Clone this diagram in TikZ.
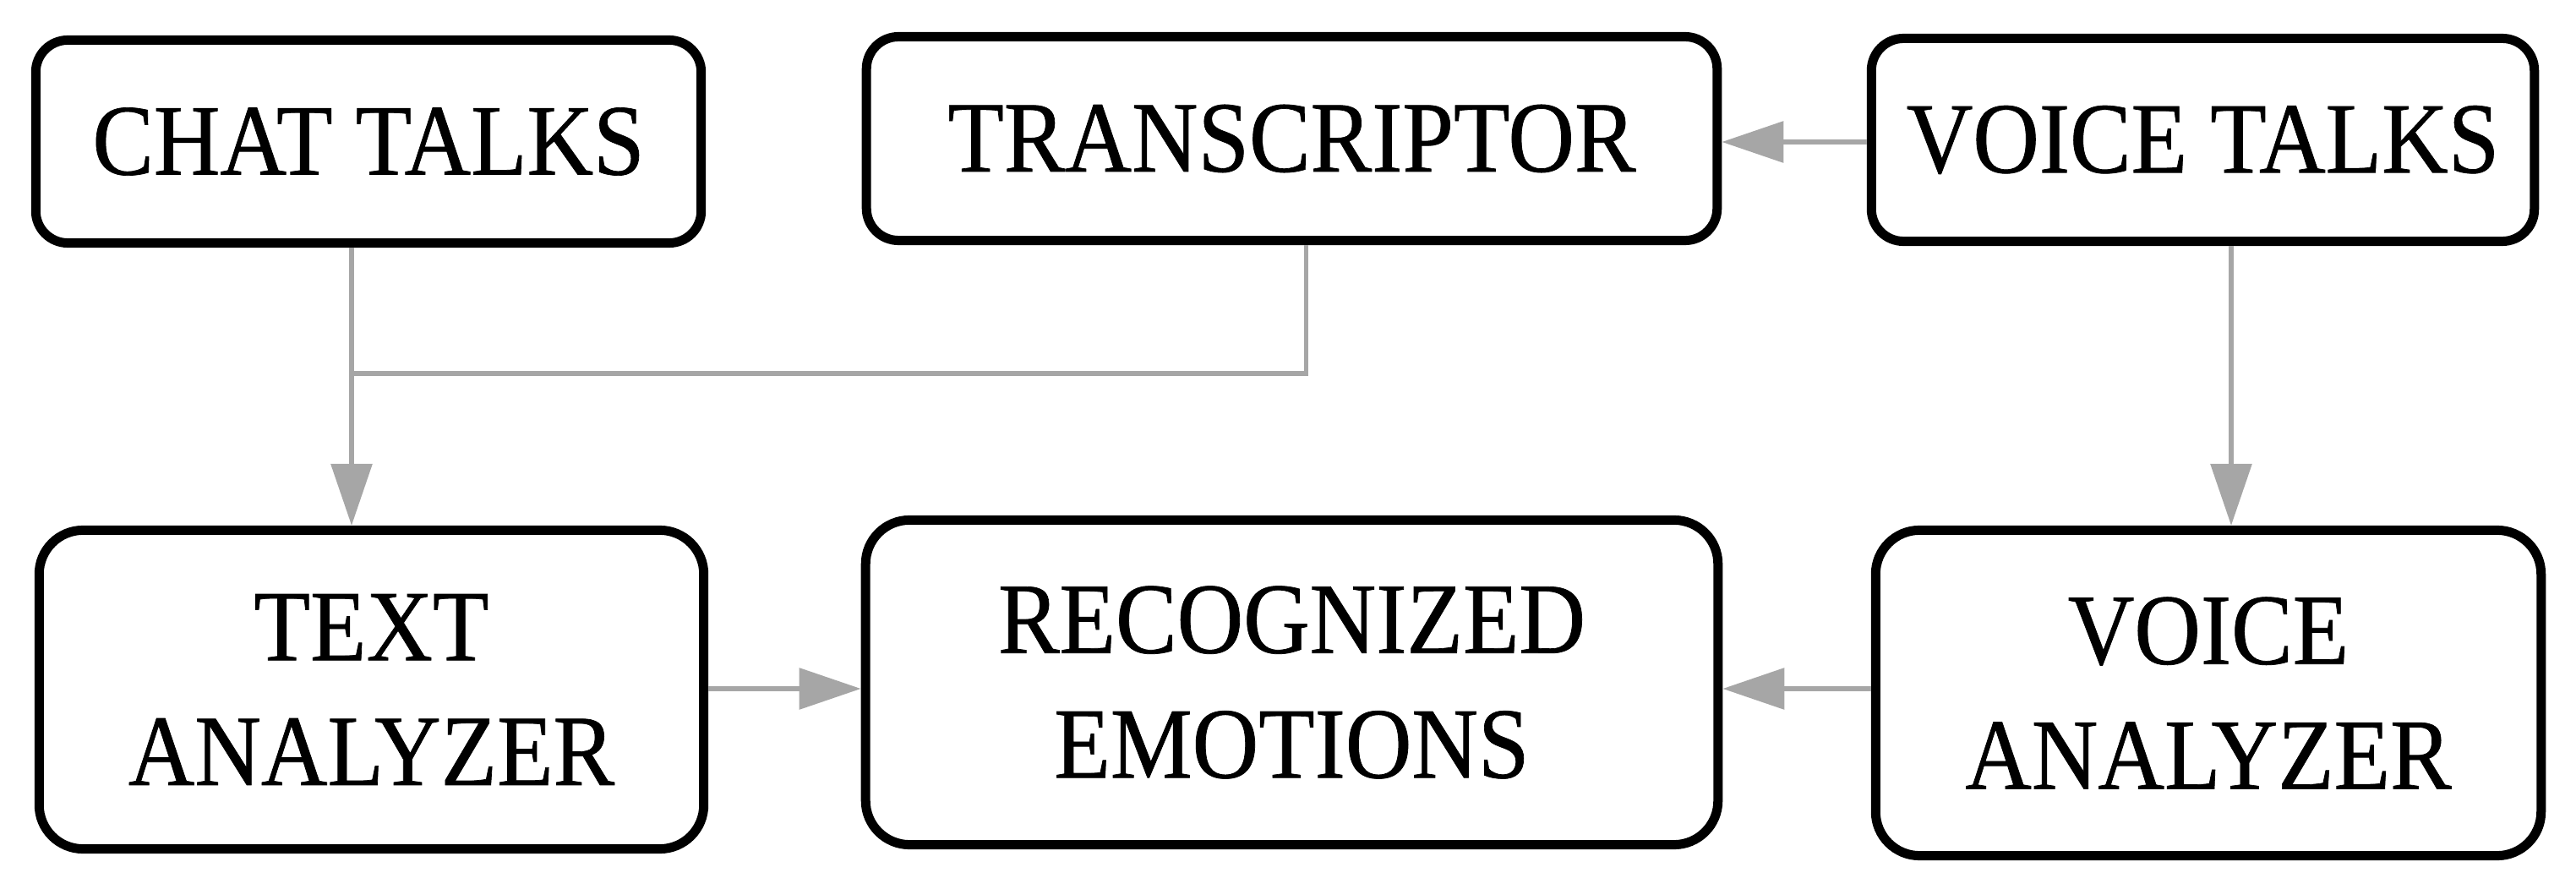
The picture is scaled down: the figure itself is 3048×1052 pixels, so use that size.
\documentclass[tikz,border=0pt]{standalone}
\usepackage{fontspec}
\setmainfont{Liberation Serif}[FakeStretch=0.91, FakeBold=0.6]
\usetikzlibrary{arrows.meta}
\definecolor{conn}{HTML}{A6A6A6}
\tikzset{
  boxbase/.style={draw=black, line width=0.11cm, inner sep=0pt, align=center,
    font=\fontsize{34}{42}\selectfont},
  smallbox/.style={boxbase, rounded corners=0.38cm},
  bigbox/.style={boxbase, rounded corners=0.52cm},
  flow/.style={draw=conn, line width=0.06cm,
    -{Triangle[length=0.73cm, width=0.48cm]}},
  flowline/.style={draw=conn, line width=0.05cm}
}
\begin{document}
\begin{tikzpicture}[x={(0.01cm,0)}, y={(0,-0.01cm)}]
\useasboundingbox (0,0) rectangle (3048,1052);
% top row
\node[smallbox, minimum width=7.87cm, minimum height=2.40cm] (chat) at (436,167.5) {CHAT TALKS};
\node[smallbox, minimum width=10.06cm, minimum height=2.41cm] (trans) at (1528.5,164) {TRANSCRIPTOR};
\node[smallbox, minimum width=7.84cm, minimum height=2.40cm] (vtalk) at (2606.5,165.5) {VOICE TALKS};
% bottom row
\node[bigbox, minimum width=7.86cm, minimum height=3.77cm] (ta) at (439.5,816) {TEXT\\ANALYZER};
\node[bigbox, minimum width=10.08cm, minimum height=3.84cm] (re) at (1528.5,807.5) {RECOGNIZED\\EMOTIONS};
\node[bigbox, minimum width=7.87cm, minimum height=3.85cm] (va) at (2613,820) {VOICE\\ANALYZER};
% helper coordinates
\coordinate (jx) at (416,442);
\coordinate (tx) at (1545,442);
\coordinate (vx) at (2640,0);
\coordinate (hy) at (0,168);
\coordinate (ly) at (0,815);
% connectors
\draw[flowline] (trans.south -| tx) -- (tx) -- (jx);
\draw[flow] (chat.south -| jx) -- (ta.north -| jx);
\draw[flow] (vtalk.west |- hy) -- (trans.east |- hy);
\draw[flow] (vtalk.south -| vx) -- (va.north -| vx);
\draw[flow] (ta.east |- ly) -- (re.west |- ly);
\draw[flow] (va.west |- ly) -- (re.east |- ly);
\end{tikzpicture}
\end{document}
